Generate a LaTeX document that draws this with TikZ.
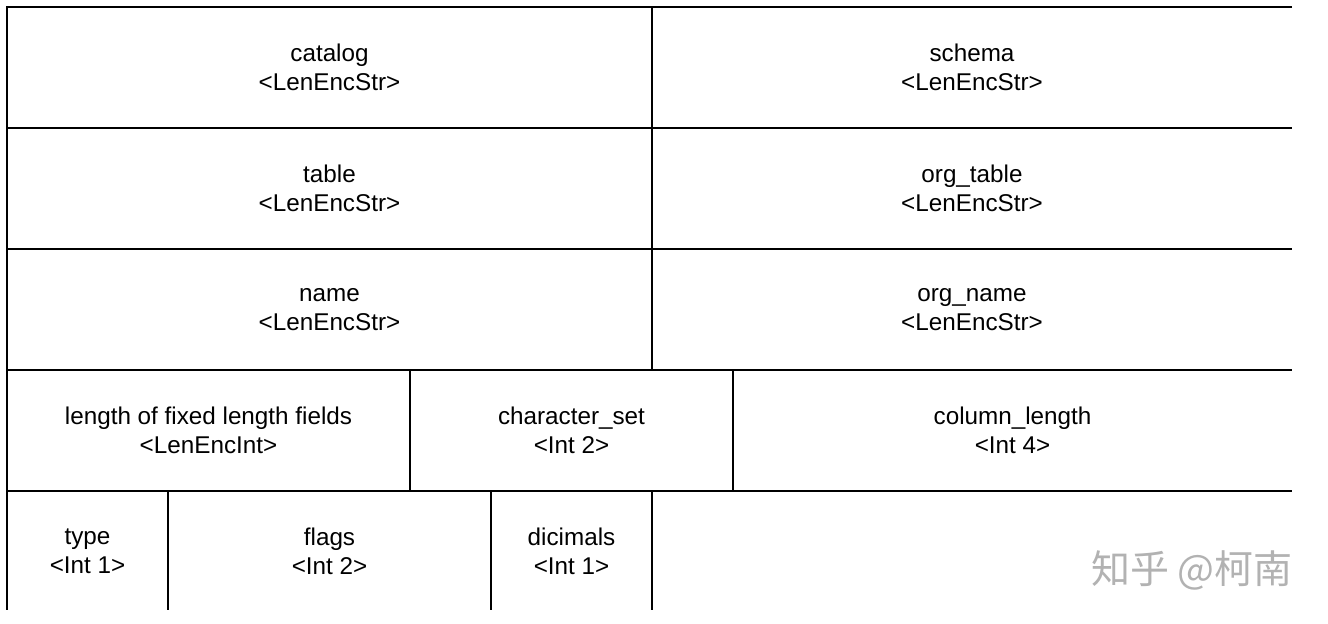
\documentclass[tikz,border=0pt]{standalone}
\usepackage{fontspec}
\setmainfont{Liberation Sans}
\newfontfamily\cjkfont{Noto Sans CJK SC}
\tikzset{
	cell/.style={align=center, inner sep=0pt, font=\fontsize{13.8}{16.5}\selectfont},
	rule/.style={line width=1.1pt, color=black},
	mark text/.style={color=black!30, inner sep=0pt, font=\cjkfont\fontsize{22.2}{24}\selectfont}
}

\begin{document}
\begin{tikzpicture}[x=0.02cm, y=-0.02cm]
			%%%%% START %%%%%
			\useasboundingbox (0, 0) rectangle (1328, 624);
			
			% outer edge (top and left only)
			\draw[rule] (1292, 7) -- (7, 7) -- (7, 610);
			\foreach \y in {128, 249, 370, 491}
				\draw[rule] (7, \y) -- (1292, \y);
			
			% column splits
			\draw[rule] (652, 7) -- (652, 370);
			\draw[rule] (410, 370) -- (410, 491);
			\draw[rule] (733, 370) -- (733, 491);
			\draw[rule] (168, 491) -- (168, 610);
			\draw[rule] (491, 491) -- (491, 610);
			\draw[rule] (652, 491) -- (652, 610);
			
			% cells
			\node[cell] (catalog) at (329.5, 67.5) {catalog\\<LenEncStr>};
			\node[cell] (schema) at (972, 67.5) {schema\\<LenEncStr>};
			\node[cell] (table) at (329.5, 188.5) {table\\<LenEncStr>};
			\node[cell] (orgtable) at (972, 188.5) {org\_table\\<LenEncStr>};
			\node[cell] (name) at (329.5, 309.5) {name\\<LenEncStr>};
			\node[cell] (orgname) at (972, 309.5) {org\_name\\<LenEncStr>};
			
			\node[cell] (fixedlen) at (208.5, 430.5) {length of fixed length fields\\<LenEncInt>};
			\node[cell] (charset) at (571.5, 430.5) {character\_set\\<Int 2>};
			\node[cell] (collen) at (1012.5, 430.5) {column\_length\\<Int 4>};
			
			\node[cell] (type) at (87.5, 551.5) {type\\<Int 1>};
			\node[cell] (flags) at (329.5, 551.5) {flags\\<Int 2>};
			\node[cell] (decimals) at (571.5, 551.5) {dicimals\\<Int 1>};
			
			\node[mark text, anchor=east] (watermark) at (1293, 570) {知乎 @柯南};
			%%%%% END %%%%%
\end{tikzpicture}
\end{document}
